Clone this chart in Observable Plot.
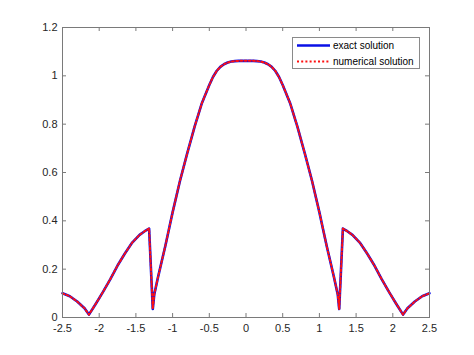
<!DOCTYPE html>
<html>
<head>
<meta charset="utf-8">
<script src="https://cdn.jsdelivr.net/npm/d3@7"></script>
<script src="https://cdn.jsdelivr.net/npm/@observablehq/plot@0.6"></script>
<style>
  html, body { margin: 0; padding: 0; background: #fff; }
  #wrap { position: relative; width: 474px; height: 355px; font-family: "Liberation Sans", Arial, Helvetica, sans-serif; }
  #legend { position: absolute; left: 292px; top: 37px; width: 126px; height: 30px; background: #fff; border: 1px solid #8a8a8a; }
  #legend svg { display: block; }
</style>
</head>
<body>
<div id="wrap"></div>
<script>
// x positions
const xValues = [
  -2.5, -2.4, -2.3, -2.2, -2.14, -2.05, -1.95, -1.85, -1.75, -1.65, -1.55, -1.45, -1.38, -1.32,
  -1.27, -1.25, -1.2, -1.1, -1.0, -0.9, -0.8, -0.7, -0.6, -0.5, -0.45, -0.4, -0.35, -0.3, -0.25, -0.2, -0.15, -0.1, 0,
  0.1, 0.15, 0.2, 0.25, 0.3, 0.35, 0.4, 0.45, 0.5, 0.6, 0.7, 0.8, 0.9, 1.0, 1.1, 1.2, 1.25, 1.27,
  1.32, 1.38, 1.45, 1.55, 1.65, 1.75, 1.85, 1.95, 2.05, 2.14, 2.2, 2.3, 2.4, 2.5
];
// exact solution values
const exactValues = [
  0.100, 0.088, 0.066, 0.038, 0.012, 0.055, 0.105, 0.158, 0.215, 0.265, 0.310, 0.342, 0.357, 0.368,
  0.035, 0.095, 0.165, 0.295, 0.435, 0.565, 0.680, 0.790, 0.888, 0.962, 0.995, 1.020, 1.037, 1.048, 1.055, 1.059, 1.061, 1.062, 1.062,
  1.062, 1.061, 1.059, 1.055, 1.048, 1.037, 1.020, 0.995, 0.962, 0.888, 0.790, 0.680, 0.565, 0.435, 0.295, 0.165, 0.095, 0.035,
  0.368, 0.357, 0.342, 0.310, 0.265, 0.215, 0.158, 0.105, 0.055, 0.012, 0.038, 0.066, 0.088, 0.100
];
// numerical solution values
const numericalValues = [
  0.100, 0.088, 0.066, 0.038, 0.012, 0.055, 0.105, 0.158, 0.215, 0.265, 0.310, 0.342, 0.357, 0.368,
  0.035, 0.095, 0.165, 0.295, 0.435, 0.565, 0.680, 0.790, 0.888, 0.962, 0.995, 1.020, 1.037, 1.048, 1.055, 1.059, 1.061, 1.062, 1.062,
  1.062, 1.061, 1.059, 1.055, 1.048, 1.037, 1.020, 0.995, 0.962, 0.888, 0.790, 0.680, 0.565, 0.435, 0.295, 0.165, 0.095, 0.035,
  0.368, 0.357, 0.342, 0.310, 0.265, 0.215, 0.158, 0.105, 0.055, 0.012, 0.038, 0.066, 0.088, 0.100
];
const xTicks = [-2.5, -2, -1.5, -1, -0.5, 0, 0.5, 1, 1.5, 2, 2.5];
const xTickLabels = ["-2.5", "-2", "-1.5", "-1", "-0.5", "0", "0.5", "1", "1.5", "2", "2.5"];
const yTicks = [0, 0.2, 0.4, 0.6, 0.8, 1, 1.2];
const yTickLabels = ["0", "0.2", "0.4", "0.6", "0.8", "1", "1.2"];
const seriesNames = ["exact solution", "numerical solution"];

const exactData = xValues.map((x, i) => ({x, y: exactValues[i]}));
const numData = xValues.map((x, i) => ({x, y: numericalValues[i]}));

const W = 474, H = 355, mL = 62, mR = 45, mT = 27, mB = 38;
const innerW = W - mL - mR, innerH = H - mT - mB, tickLen = 4;
const axisColor = "#7a7a7a", textColor = "#262626";
const blue = "#0a10e6", red = "#ff1010";

const chart = Plot.plot({
  width: W, height: H,
  marginLeft: mL, marginRight: mR, marginTop: mT, marginBottom: mB,
  style: {fontFamily: '"Liberation Sans", Arial, Helvetica, sans-serif', fontSize: "11px", color: textColor, background: "#fff"},
  x: {domain: [-2.5, 2.5], label: null},
  y: {domain: [0, 1.2], label: null},
  marks: [
    Plot.line(exactData, {x: "x", y: "y", stroke: blue, strokeWidth: 2.6}),
    Plot.line(numData, {x: "x", y: "y", stroke: red, strokeWidth: 2, strokeDasharray: "2,2.2"}),
    Plot.frame({stroke: axisColor, strokeWidth: 1}),
    Plot.ruleX(xTicks, {x: d => d, insetTop: innerH - tickLen, stroke: axisColor}),
    Plot.ruleX(xTicks, {x: d => d, insetBottom: innerH - tickLen, stroke: axisColor}),
    Plot.ruleY(yTicks, {y: d => d, insetRight: innerW - tickLen, stroke: axisColor}),
    Plot.ruleY(yTicks, {y: d => d, insetLeft: innerW - tickLen, stroke: axisColor}),
    Plot.axisX(xTicks, {anchor: "bottom", label: null, tickSize: 0, tickPadding: 7, tickFormat: (d, i) => xTickLabels[i], fill: textColor, fontSize: 11}),
    Plot.axisY(yTicks, {anchor: "left", label: null, tickSize: 0, tickPadding: 5, tickFormat: (d, i) => yTickLabels[i], fill: textColor, fontSize: 11})
  ]
});

const wrap = document.getElementById("wrap");
wrap.appendChild(chart);

// legend
const legend = document.createElement("div");
legend.id = "legend";
const lsvg = d3.create("svg").attr("width", 126).attr("height", 30);
const styles = [
  {stroke: blue, width: 2.6, dash: null},
  {stroke: red, width: 2, dash: "2,2.2"}
];
seriesNames.forEach((name, i) => {
  const cy = 7.5 + i * 16;
  lsvg.append("line").attr("x1", 4).attr("x2", 37).attr("y1", cy).attr("y2", cy)
    .attr("stroke", styles[i].stroke).attr("stroke-width", styles[i].width)
    .attr("stroke-dasharray", styles[i].dash);
  lsvg.append("text").attr("x", 40).attr("y", cy).attr("dy", "0.35em")
    .attr("font-size", 10).attr("fill", "#000")
    .attr("font-family", '"Liberation Sans", Arial, Helvetica, sans-serif')
    .text(name);
});
legend.appendChild(lsvg.node());
wrap.appendChild(legend);
</script>
</body>
</html>
